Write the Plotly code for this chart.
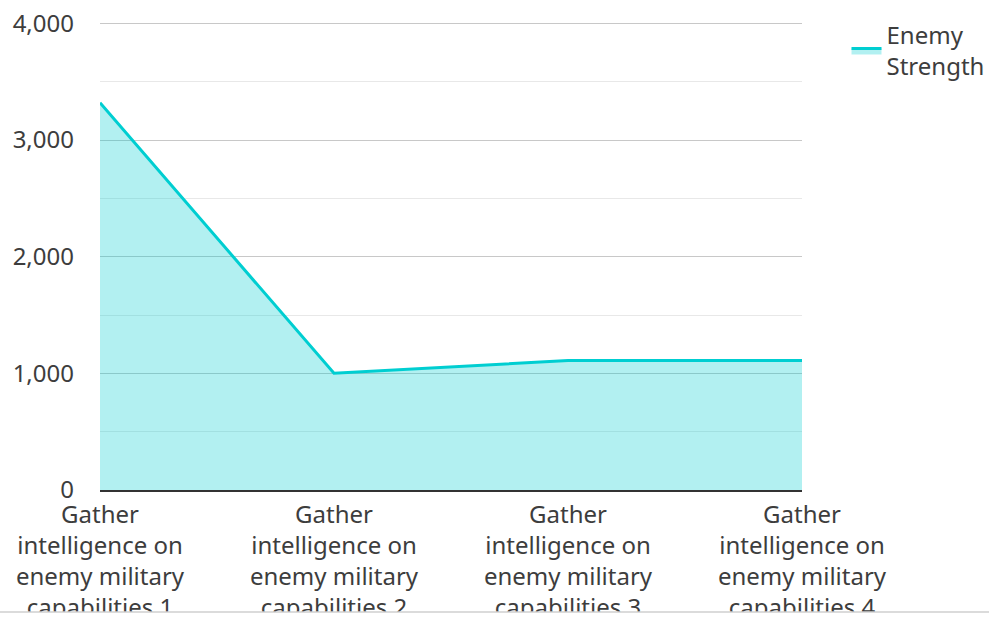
import plotly.graph_objects as go

categories = [
    "Gather<br>intelligence on<br>enemy military<br>capabilities 1",
    "Gather<br>intelligence on<br>enemy military<br>capabilities 2",
    "Gather<br>intelligence on<br>enemy military<br>capabilities 3",
    "Gather<br>intelligence on<br>enemy military<br>capabilities 4",
]
enemy_strength = [3320, 1000, 1110, 1110]
series_name = "Enemy<br>Strength"
y_ticks = [0, 1000, 2000, 3000, 4000]

FONT = "Noto Sans"
TEXT = "#3d3d3d"

fig = go.Figure()
fig.add_trace(go.Scatter(
    x=categories,
    y=enemy_strength,
    name=series_name,
    mode="lines",
    line=dict(color="#00CED1", width=3),
    fill="tozeroy",
    fillcolor="rgba(0,206,209,0.3)",
))

fig.update_layout(
    width=989,
    height=617,
    margin=dict(l=100, r=187, t=21, b=127, autoexpand=False),
    paper_bgcolor="white",
    plot_bgcolor="white",
    font=dict(family=FONT, size=24, color=TEXT),
    showlegend=True,
    legend=dict(
        x=1.0634, y=1.0177, xanchor="left", yanchor="top",
        font=dict(family=FONT, size=24, color=TEXT),
        bgcolor="rgba(0,0,0,0)",
    ),
    xaxis=dict(
        type="category",
        range=[0, 3],
        automargin=False,
        showgrid=False,
        showline=True,
        linecolor="#333333",
        linewidth=2,
        ticks="",
        ticklabelstandoff=2,
        tickfont=dict(family=FONT, size=24, color=TEXT),
        zeroline=False,
    ),
    yaxis=dict(
        range=[0, 4020],
        automargin=False,
        tickvals=y_ticks,
        tickformat=",d",
        showgrid=True,
        gridcolor="#c8c8c8",
        gridwidth=1,
        zeroline=False,
        showline=False,
        ticks="",
        ticklabelstandoff=25,
        tickfont=dict(family=FONT, size=24, color=TEXT),
        minor=dict(dtick=500, showgrid=True, gridcolor="#e8e8e8", gridwidth=1),
    ),
    shapes=[
        dict(
            type="rect", xref="paper", yref="paper",
            ysizemode="pixel", yanchor=0,
            x0=-0.3, x1=1.4, y0=-122, y1=-140,
            fillcolor="white",
            line=dict(color="#d0d0d0", width=1.5),
            layer="above",
        )
    ],
)

fig.write_html(
    "out.html",
    config={"displayModeBar": False},
    post_script="document.body.style.margin='0';",
)
